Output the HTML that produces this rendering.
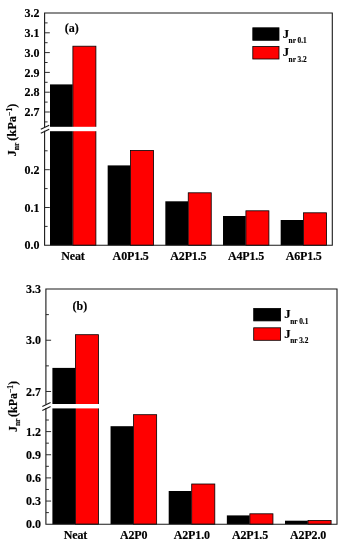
<!DOCTYPE html>
<html><head><meta charset="utf-8"><title>Jnr</title>
<style>
html,body{margin:0;padding:0;background:#fff;}
svg{display:block;}
text{font-family:"Liberation Serif",serif;font-weight:bold;fill:#000;stroke:#000;stroke-width:0.15px;}
.t{font-size:12px;}
.x{letter-spacing:-0.15px;}
.j{font-size:12.7px;}
.s{font-size:7.3px;}
.y{font-size:12px;}
.ys{font-size:7.5px;}
</style></head><body>
<svg width="350" height="550" viewBox="0 0 350 550">
<rect width="350" height="550" fill="#fff"/>
<rect x="50.00" y="84.40" width="22.70" height="160.90" fill="#000"/>
<rect x="72.90" y="46.20" width="23.00" height="199.10" fill="#f00" stroke="#000" stroke-width="0.8"/>
<rect x="107.67" y="165.40" width="22.70" height="79.90" fill="#000"/>
<rect x="130.57" y="150.50" width="23.00" height="94.80" fill="#f00" stroke="#000" stroke-width="0.8"/>
<rect x="165.34" y="201.30" width="22.70" height="44.00" fill="#000"/>
<rect x="188.24" y="192.80" width="23.00" height="52.50" fill="#f00" stroke="#000" stroke-width="0.8"/>
<rect x="223.01" y="216.00" width="22.70" height="29.30" fill="#000"/>
<rect x="245.91" y="210.80" width="23.00" height="34.50" fill="#f00" stroke="#000" stroke-width="0.8"/>
<rect x="280.68" y="220.00" width="22.70" height="25.30" fill="#000"/>
<rect x="303.58" y="212.80" width="23.00" height="32.50" fill="#f00" stroke="#000" stroke-width="0.8"/>
<rect x="45.60" y="126.80" width="285.70" height="4.40" fill="#fff"/>
<path d="M44.6 127.3V13.0H332.3V245.3H44.6V130.7" fill="none" stroke="#1a1a1a" stroke-width="1.1"/>
<text x="39.6" y="17.10" text-anchor="end" class="t">3.2</text>
<line x1="44.6" x2="49.800000000000004" y1="32.80" y2="32.80" stroke="#222" stroke-width="0.95"/>
<text x="39.6" y="36.90" text-anchor="end" class="t">3.1</text>
<line x1="44.6" x2="49.800000000000004" y1="52.60" y2="52.60" stroke="#222" stroke-width="0.95"/>
<text x="39.6" y="56.70" text-anchor="end" class="t">3.0</text>
<line x1="44.6" x2="49.800000000000004" y1="72.40" y2="72.40" stroke="#222" stroke-width="0.95"/>
<text x="39.6" y="76.50" text-anchor="end" class="t">2.9</text>
<line x1="44.6" x2="49.800000000000004" y1="92.20" y2="92.20" stroke="#222" stroke-width="0.95"/>
<text x="39.6" y="96.30" text-anchor="end" class="t">2.8</text>
<line x1="44.6" x2="49.800000000000004" y1="112.00" y2="112.00" stroke="#222" stroke-width="0.95"/>
<text x="39.6" y="116.10" text-anchor="end" class="t">2.7</text>
<text x="39.6" y="249.40" text-anchor="end" class="t">0.0</text>
<line x1="44.6" x2="49.800000000000004" y1="207.50" y2="207.50" stroke="#222" stroke-width="0.95"/>
<text x="39.6" y="211.60" text-anchor="end" class="t">0.1</text>
<line x1="44.6" x2="49.800000000000004" y1="169.70" y2="169.70" stroke="#222" stroke-width="0.95"/>
<text x="39.6" y="173.80" text-anchor="end" class="t">0.2</text>
<line x1="44.6" x2="47.6" y1="22.90" y2="22.90" stroke="#222" stroke-width="0.95"/>
<line x1="44.6" x2="47.6" y1="42.70" y2="42.70" stroke="#222" stroke-width="0.95"/>
<line x1="44.6" x2="47.6" y1="62.50" y2="62.50" stroke="#222" stroke-width="0.95"/>
<line x1="44.6" x2="47.6" y1="82.30" y2="82.30" stroke="#222" stroke-width="0.95"/>
<line x1="44.6" x2="47.6" y1="102.10" y2="102.10" stroke="#222" stroke-width="0.95"/>
<line x1="44.6" x2="47.6" y1="121.90" y2="121.90" stroke="#222" stroke-width="0.95"/>
<line x1="44.6" x2="47.6" y1="226.40" y2="226.40" stroke="#222" stroke-width="0.95"/>
<line x1="44.6" x2="47.6" y1="188.60" y2="188.60" stroke="#222" stroke-width="0.95"/>
<line x1="44.6" x2="47.6" y1="150.80" y2="150.80" stroke="#222" stroke-width="0.95"/>
<line x1="40.8" y1="129.2" x2="49.2" y2="125.2" stroke="#1a1a1a" stroke-width="1.1"/>
<line x1="40.8" y1="133.2" x2="49.2" y2="129.2" stroke="#1a1a1a" stroke-width="1.1"/>
<text x="73.00" y="259.70" text-anchor="middle" class="t x">Neat</text>
<text x="130.67" y="259.70" text-anchor="middle" class="t x">A0P1.5</text>
<text x="188.34" y="259.70" text-anchor="middle" class="t x">A2P1.5</text>
<text x="246.01" y="259.70" text-anchor="middle" class="t x">A4P1.5</text>
<text x="303.68" y="259.70" text-anchor="middle" class="t x">A6P1.5</text>
<text x="71.8" y="31.6" text-anchor="middle" class="t">(a)</text>
<rect x="252.8" y="27.8" width="26.2" height="12.5" fill="#000" stroke="#000" stroke-width="0.8"/>
<text x="282.70" y="37.50" class="j">J</text>
<text x="288.60" y="42.90" class="s">nr 0.1</text>
<rect x="252.8" y="46.5" width="26.2" height="12.5" fill="#f00" stroke="#000" stroke-width="0.8"/>
<text x="282.70" y="56.20" class="j">J</text>
<text x="288.60" y="61.60" class="s">nr 3.2</text>
<g transform="translate(16.3 130) rotate(-90) scale(1.035)"><text text-anchor="middle" class="y">J<tspan class="ys" dy="3">nr</tspan><tspan dy="-3" dx="1.6">(kPa</tspan><tspan class="ys" dy="-4.5">−1</tspan><tspan dy="4.5">)</tspan></text></g>
<rect x="52.40" y="367.90" width="22.80" height="156.30" fill="#000"/>
<rect x="75.40" y="334.70" width="23.10" height="189.50" fill="#f00" stroke="#000" stroke-width="0.8"/>
<rect x="110.55" y="426.20" width="22.80" height="98.00" fill="#000"/>
<rect x="133.55" y="414.70" width="23.10" height="109.50" fill="#f00" stroke="#000" stroke-width="0.8"/>
<rect x="168.70" y="491.00" width="22.80" height="33.20" fill="#000"/>
<rect x="191.70" y="484.00" width="23.10" height="40.20" fill="#f00" stroke="#000" stroke-width="0.8"/>
<rect x="226.85" y="515.40" width="22.80" height="8.80" fill="#000"/>
<rect x="249.85" y="513.80" width="23.10" height="10.40" fill="#f00" stroke="#000" stroke-width="0.8"/>
<rect x="285.00" y="520.70" width="22.80" height="3.50" fill="#000"/>
<rect x="308.00" y="520.50" width="23.10" height="3.70" fill="#f00" stroke="#000" stroke-width="0.8"/>
<rect x="46.90" y="404.00" width="289.10" height="4.40" fill="#fff"/>
<path d="M45.9 404.5V289.0H337.0V524.2H45.9V407.9" fill="none" stroke="#1a1a1a" stroke-width="1.1"/>
<text x="40.9" y="293.10" text-anchor="end" class="t">3.3</text>
<line x1="45.9" x2="51.1" y1="340.24" y2="340.24" stroke="#222" stroke-width="0.95"/>
<text x="40.9" y="344.34" text-anchor="end" class="t">3.0</text>
<line x1="45.9" x2="51.1" y1="391.48" y2="391.48" stroke="#222" stroke-width="0.95"/>
<text x="40.9" y="395.58" text-anchor="end" class="t">2.7</text>
<text x="40.9" y="528.30" text-anchor="end" class="t">0.0</text>
<line x1="45.9" x2="51.1" y1="501.05" y2="501.05" stroke="#222" stroke-width="0.95"/>
<text x="40.9" y="505.15" text-anchor="end" class="t">0.3</text>
<line x1="45.9" x2="51.1" y1="477.90" y2="477.90" stroke="#222" stroke-width="0.95"/>
<text x="40.9" y="482.00" text-anchor="end" class="t">0.6</text>
<line x1="45.9" x2="51.1" y1="454.75" y2="454.75" stroke="#222" stroke-width="0.95"/>
<text x="40.9" y="458.85" text-anchor="end" class="t">0.9</text>
<line x1="45.9" x2="51.1" y1="431.60" y2="431.60" stroke="#222" stroke-width="0.95"/>
<text x="40.9" y="435.70" text-anchor="end" class="t">1.2</text>
<line x1="45.9" x2="48.9" y1="314.62" y2="314.62" stroke="#222" stroke-width="0.95"/>
<line x1="45.9" x2="48.9" y1="365.86" y2="365.86" stroke="#222" stroke-width="0.95"/>
<line x1="45.9" x2="48.9" y1="512.62" y2="512.62" stroke="#222" stroke-width="0.95"/>
<line x1="45.9" x2="48.9" y1="489.47" y2="489.47" stroke="#222" stroke-width="0.95"/>
<line x1="45.9" x2="48.9" y1="466.32" y2="466.32" stroke="#222" stroke-width="0.95"/>
<line x1="45.9" x2="48.9" y1="443.17" y2="443.17" stroke="#222" stroke-width="0.95"/>
<line x1="45.9" x2="48.9" y1="420.02" y2="420.02" stroke="#222" stroke-width="0.95"/>
<line x1="42.3" y1="406.5" x2="50.6" y2="402.4" stroke="#1a1a1a" stroke-width="1.1"/>
<line x1="42.3" y1="410.6" x2="50.6" y2="406.5" stroke="#1a1a1a" stroke-width="1.1"/>
<text x="75.50" y="538.60" text-anchor="middle" class="t x">Neat</text>
<text x="133.65" y="538.60" text-anchor="middle" class="t x">A2P0</text>
<text x="191.80" y="538.60" text-anchor="middle" class="t x">A2P1.0</text>
<text x="249.95" y="538.60" text-anchor="middle" class="t x">A2P1.5</text>
<text x="308.10" y="538.60" text-anchor="middle" class="t x">A2P2.0</text>
<text x="79.9" y="309.8" text-anchor="middle" class="t">(b)</text>
<rect x="253.7" y="308.4" width="26.9" height="12.5" fill="#000" stroke="#000" stroke-width="0.8"/>
<text x="284.30" y="318.10" class="j">J</text>
<text x="290.20" y="323.50" class="s">nr 0.1</text>
<rect x="253.7" y="327.79999999999995" width="26.9" height="12.5" fill="#f00" stroke="#000" stroke-width="0.8"/>
<text x="284.30" y="337.50" class="j">J</text>
<text x="290.20" y="342.90" class="s">nr 3.2</text>
<g transform="translate(17.2 406.5) rotate(-90) scale(1.0)"><text text-anchor="middle" class="y">J<tspan class="ys" dy="3">nr</tspan><tspan dy="-3" dx="1.6">(kPa</tspan><tspan class="ys" dy="-4.5">−1</tspan><tspan dy="4.5">)</tspan></text></g>
</svg>
</body></html>
